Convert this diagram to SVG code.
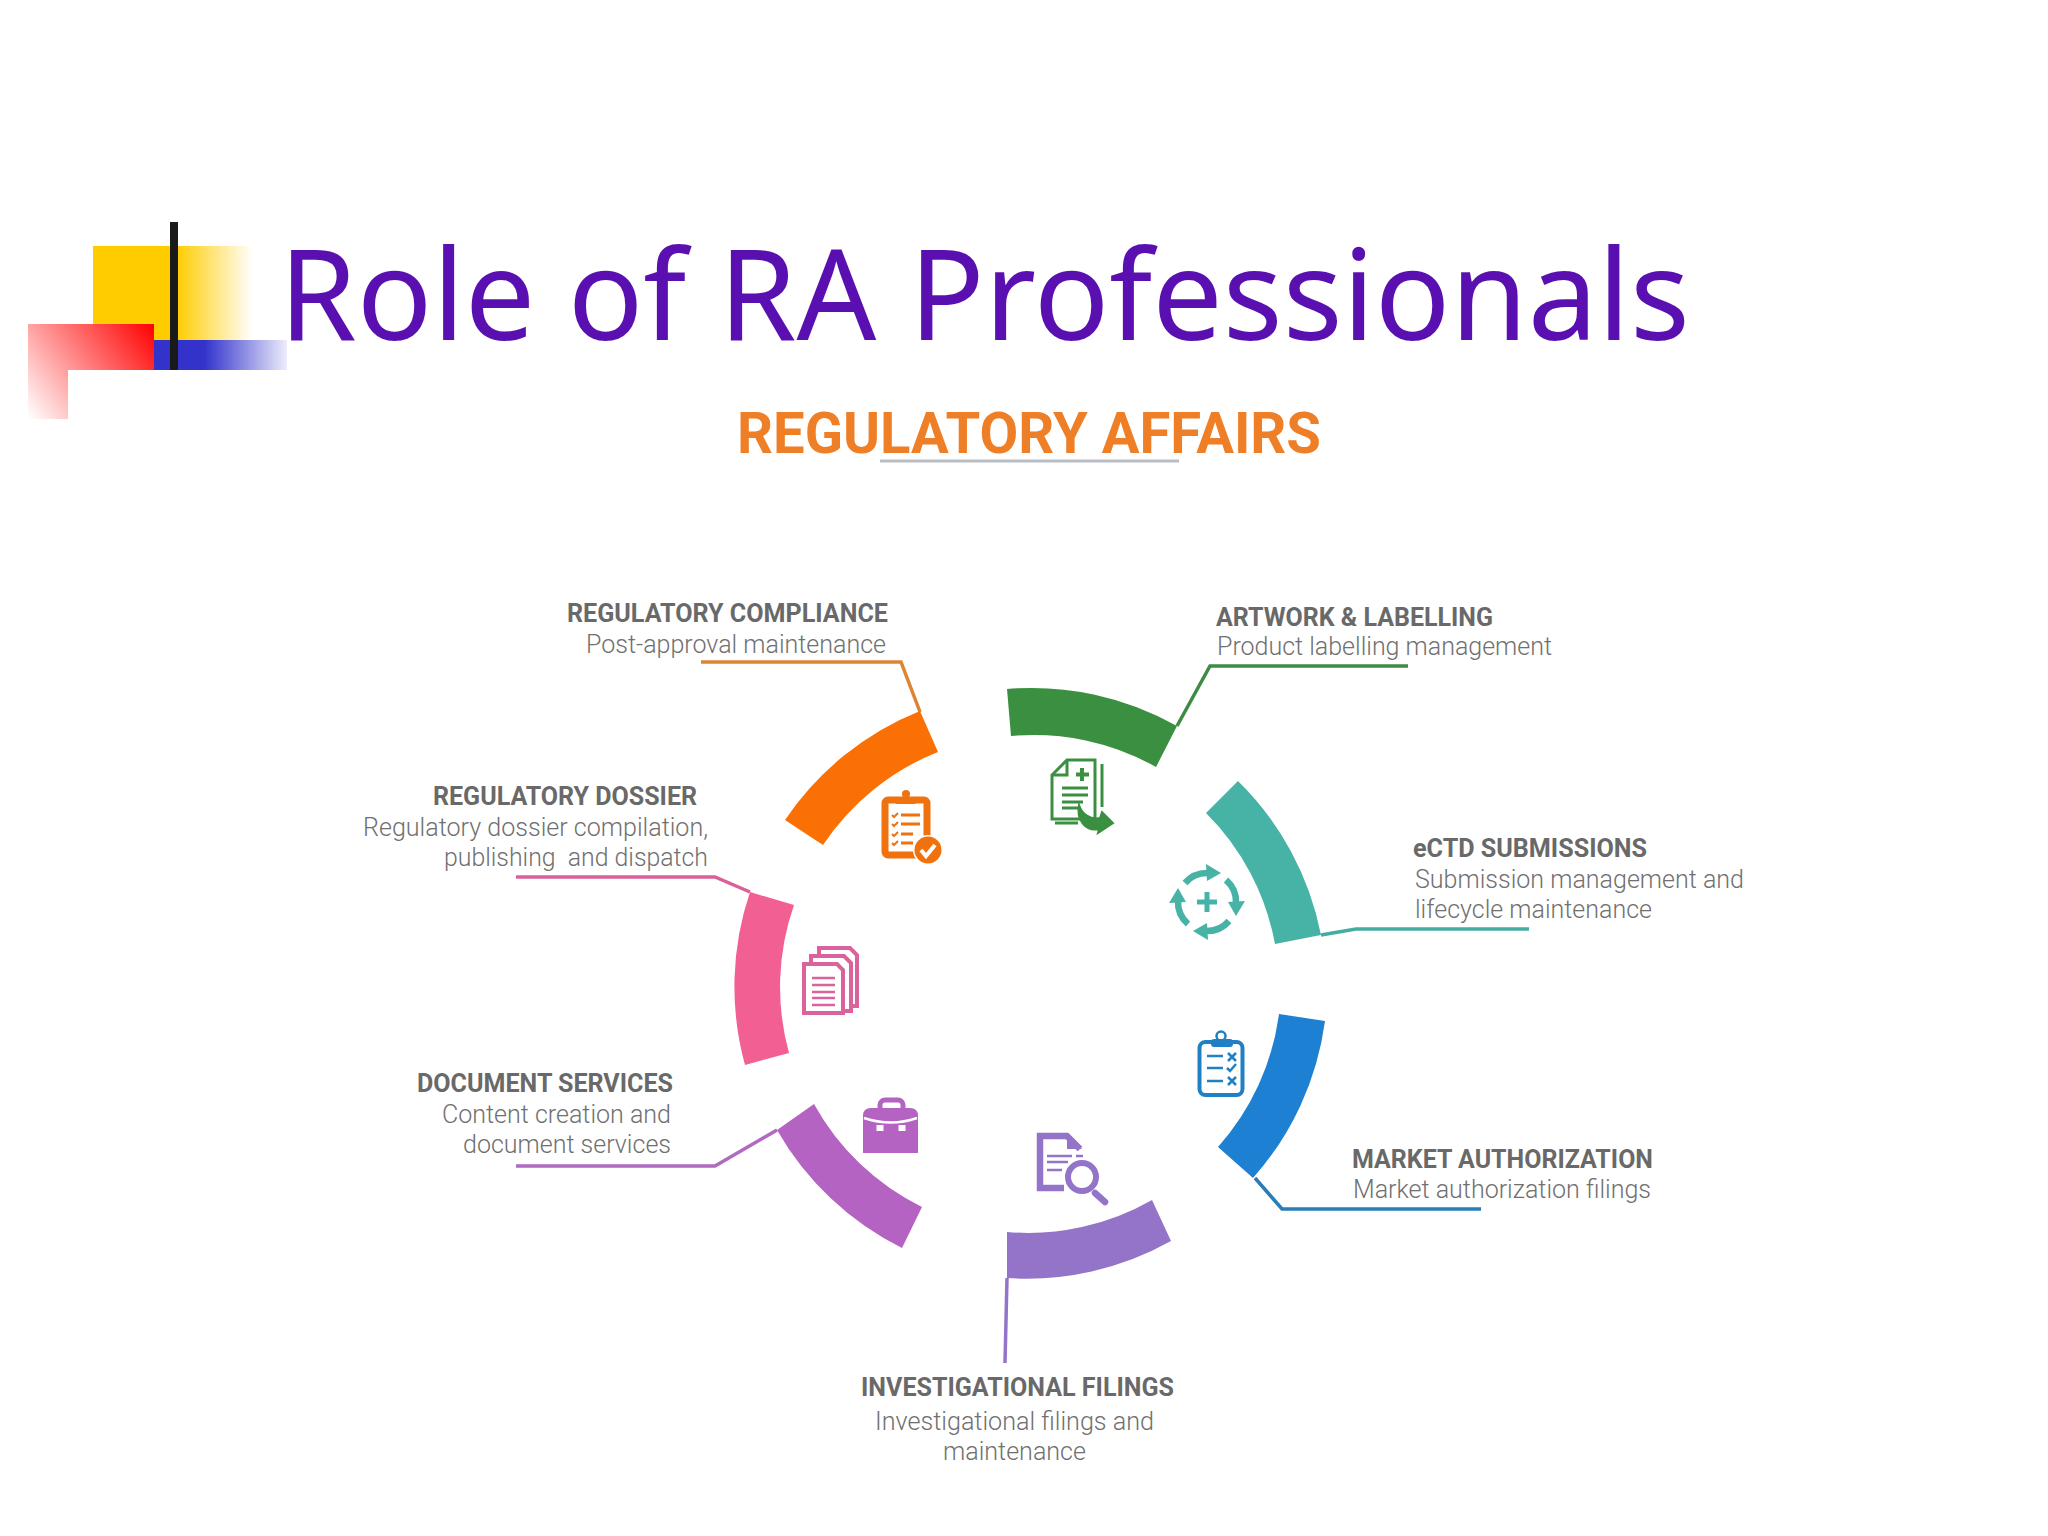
<svg xmlns="http://www.w3.org/2000/svg" xmlns:xlink="http://www.w3.org/1999/xlink" width="2048" height="1536" viewBox="0 0 2048 1536">
<style>
text{font-family:Roboto,"Liberation Sans",sans-serif}
.title{font-family:"Noto Sans","Open Sans",sans-serif;font-size:126px;fill:#5a10b0}
.head{font-size:57px;font-weight:700;fill:#ef7f26}
.b{font-size:25px;font-weight:700;fill:#696969}
.s{font-size:25px;font-weight:300;fill:#707070}
.c{fill:none;stroke-width:3.500}
.w{fill:none;stroke:#fff}
</style>
<defs>
<linearGradient id="gy" gradientUnits="userSpaceOnUse" x1="93" y1="0" x2="253" y2="0"><stop offset="0" stop-color="#ffcc00"/><stop offset=".52" stop-color="#ffcc00"/><stop offset="1" stop-color="#fff"/></linearGradient>
<linearGradient id="gb" gradientUnits="userSpaceOnUse" x1="154" y1="0" x2="295" y2="0"><stop offset="0" stop-color="#3333cc"/><stop offset=".36" stop-color="#3333cc"/><stop offset="1" stop-color="#fff"/></linearGradient>
<linearGradient id="gr" gradientUnits="userSpaceOnUse" x1="154" y1="324" x2="28" y2="418"><stop offset="0" stop-color="#ff0000"/><stop offset="1" stop-color="#fff"/></linearGradient>
<g id="arm"><path d="M1185,883A29,29 0 0 1 1208,873" fill="none" stroke="#47b3a7" stroke-width="6.500"/><path d="M1206,864L1221,873L1207,881Z" fill="#47b3a7"/></g>
</defs>
<rect width="2048" height="1536" fill="#fff"/>

<g id="decoration">
<rect x="93" y="246" width="160" height="94" fill="url(#gy)"/>
<rect x="154" y="340" width="133" height="30" fill="url(#gb)"/>
<path d="M28,324H154V370H68V419H28Z" fill="url(#gr)"/>
<rect x="170" y="222" width="8" height="148" fill="#1a1a1a"/>
</g>
<text class="title" x="279" y="340" textLength="1411" lengthAdjust="spacingAndGlyphs">Role of RA Professionals</text>
<g id="heading">
<text class="head" x="737" y="453" textLength="584" lengthAdjust="spacingAndGlyphs">REGULATORY AFFAIRS</text>
<rect x="880" y="459.500" width="299" height="3" fill="#b9bdc4"/>
</g>

<g id="connectors">
<polyline class="c" stroke="#dc8533" points="701,662 901,662 920,712"/>
<polyline class="c" stroke="#3f8a46" points="1408,666 1210,666 1177,726"/>
<polyline class="c" stroke="#45ada0" points="1529,929 1356,929 1321,935"/>
<polyline class="c" stroke="#2a7db8" points="1481,1209 1282,1209 1255,1178"/>
<polyline class="c" stroke="#9474c9" points="1007,1278 1005,1363"/>
<polyline class="c" stroke="#b06ac0" points="516,1166 715,1166 777,1130"/>
<polyline class="c" stroke="#d9619a" points="516,877 715,877 750,892"/>
</g>

<g id="regulatory-compliance">
<path fill="#fb7005" d="M785,820A295,295 0 0 1 920,711L938,752A248,248 0 0 0 823,845Z"/>
<rect x="885" y="800" width="42" height="55" rx="3" fill="none" stroke="#f0720f" stroke-width="7"/>
<rect x="895" y="797" width="21" height="7" rx="2" fill="#f0720f"/><circle cx="906" cy="794" r="4" fill="#f0720f"/>
<path d="M901,815H920M901,824H920M901,834H913M901,843H913" fill="none" stroke="#f0720f" stroke-width="3"/>
<path d="M892,815l2,2l4,-4M892,824l2,2l4,-4M892,834l2,2l4,-4M892,843l2,2l4,-4" fill="none" stroke="#f0720f" stroke-width="2"/>
<circle cx="928" cy="850" r="15" fill="#fff"/><circle cx="928" cy="850" r="13.500" fill="#f0720f"/>
<path d="M921,850l5,6l9,-11" class="w" stroke-width="4"/>
<text class="b" x="567" y="622" textLength="321" lengthAdjust="spacingAndGlyphs">REGULATORY COMPLIANCE</text>
<text class="s" x="586" y="653" textLength="300" lengthAdjust="spacingAndGlyphs">Post-approval maintenance</text>
</g>

<g id="artwork-labelling">
<path fill="#3a8f41" d="M1007,689A295,295 0 0 1 1177,726L1156,767A248,248 0 0 0 1011,736Z"/>
<path d="M1067,760H1095V819H1052V775Z" fill="none" stroke="#3a8f41" stroke-width="3"/>
<path d="M1067,760V775H1052M1102,764V807M1055,823H1078" fill="none" stroke="#3a8f41" stroke-width="3"/>
<path d="M1082,768V781M1076,774.500H1089" fill="none" stroke="#3a8f41" stroke-width="4"/>
<path d="M1062,788H1088M1062,795H1088M1062,802H1083M1062,808H1078" fill="none" stroke="#3a8f41" stroke-width="3"/>
<path d="M1079,805C1082,814 1090,820 1100,818L1102,812L1113,823L1098,833L1099,829C1086,832 1076,820 1079,805Z" fill="#3a8f41" stroke="#3a8f41" stroke-width="2"/>
<text class="b" x="1216" y="626" textLength="277" lengthAdjust="spacingAndGlyphs">ARTWORK &amp; LABELLING</text>
<text class="s" x="1217" y="655" textLength="335" lengthAdjust="spacingAndGlyphs">Product labelling management</text>
</g>

<g id="ectd-submissions">
<path fill="#47b3a7" d="M1238,781A295,295 0 0 1 1321,935L1275,944A248,248 0 0 0 1206,813Z"/>
<use xlink:href="#arm" href="#arm"/>
<use xlink:href="#arm" href="#arm" transform="rotate(90 1207 902)"/>
<use xlink:href="#arm" href="#arm" transform="rotate(180 1207 902)"/>
<use xlink:href="#arm" href="#arm" transform="rotate(270 1207 902)"/>
<path d="M1197,902H1217M1207,892V912" fill="none" stroke="#47b3a7" stroke-width="5"/>
<text class="b" x="1413" y="857" textLength="234" lengthAdjust="spacingAndGlyphs">eCTD SUBMISSIONS</text>
<text class="s" x="1415" y="888" textLength="329" lengthAdjust="spacingAndGlyphs">Submission management and</text>
<text class="s" x="1415" y="918" textLength="237" lengthAdjust="spacingAndGlyphs">lifecycle maintenance</text>
</g>

<g id="market-authorization">
<path fill="#1e80d2" d="M1325,1021A295,295 0 0 1 1253,1178L1218,1147A248,248 0 0 0 1279,1014Z"/>
<rect x="1199.500" y="1042" width="43" height="53" rx="6" fill="none" stroke="#2180c4" stroke-width="4"/>
<rect x="1211" y="1039" width="22" height="8" rx="3" fill="#2180c4"/><circle cx="1221" cy="1036" r="4.500" fill="none" stroke="#2180c4" stroke-width="2.500"/>
<path d="M1207,1056H1223M1207,1068H1223M1207,1081H1223" fill="none" stroke="#2180c4" stroke-width="2.500"/>
<path d="M1228,1053l8,8m0,-8l-8,8M1228,1077l8,8m0,-8l-8,8M1227,1068l3,3l6,-7" fill="none" stroke="#2180c4" stroke-width="2.500"/>
<text class="b" x="1352" y="1168" textLength="301" lengthAdjust="spacingAndGlyphs">MARKET AUTHORIZATION</text>
<text class="s" x="1353" y="1198" textLength="298" lengthAdjust="spacingAndGlyphs">Market authorization filings</text>
</g>

<g id="investigational-filings">
<path fill="#9474c9" d="M1171,1241A295,295 0 0 1 1007,1278L1007,1232A248,248 0 0 0 1152,1200Z"/>
<path d="M1064,1188H1040V1136H1067L1080,1149" fill="none" stroke="#9474c9" stroke-width="6.500"/>
<path d="M1067,1134L1082,1149H1067Z" fill="#9474c9"/>
<path d="M1047,1156H1072M1047,1162H1068M1047,1170H1062M1076,1156H1083" fill="none" stroke="#9474c9" stroke-width="2.500"/>
<circle cx="1082" cy="1177" r="14" fill="#fff" stroke="#9474c9" stroke-width="6"/>
<path d="M1095,1193L1105,1202" fill="none" stroke="#9474c9" stroke-width="6.500" stroke-linecap="round"/>
<text class="b" x="861" y="1396" textLength="313" lengthAdjust="spacingAndGlyphs">INVESTIGATIONAL FILINGS</text>
<text class="s" x="875" y="1430" textLength="279" lengthAdjust="spacingAndGlyphs">Investigational filings and</text>
<text class="s" x="943" y="1460" textLength="143" lengthAdjust="spacingAndGlyphs">maintenance</text>
</g>

<g id="document-services">
<path fill="#b563c3" d="M902,1248A295,295 0 0 1 777,1130L814,1104A248,248 0 0 0 922,1207Z"/>
<rect x="880" y="1100" width="23" height="14" rx="5" fill="none" stroke="#b563c3" stroke-width="5"/>
<path d="M863,1153V1116Q863,1108 871,1108H910Q918,1108 918,1116V1153Z" fill="#b563c3"/>
<path d="M864,1118Q891,1127 917,1118" class="w" stroke-width="2.500"/>
<path d="M880,1125V1131M902,1125V1131" class="w" stroke-width="7"/>
<text class="b" x="417" y="1092" textLength="256" lengthAdjust="spacingAndGlyphs">DOCUMENT SERVICES</text>
<text class="s" x="442" y="1123" textLength="229" lengthAdjust="spacingAndGlyphs">Content creation and</text>
<text class="s" x="463" y="1153" textLength="208" lengthAdjust="spacingAndGlyphs">document services</text>
</g>

<g id="regulatory-dossier">
<path fill="#f25f93" d="M745,1065A295,295 0 0 1 750,892L794,905A248,248 0 0 0 789,1053Z"/>
<path d="M819,955V948H850L857,955V1006H852" fill="none" stroke="#d9639a" stroke-width="4"/>
<path d="M811,963V956H844L851,963V1011H845" fill="#fff" stroke="#d9639a" stroke-width="4"/>
<path d="M804,964H837L843,970V1013H804Z" fill="#fff" stroke="#d9639a" stroke-width="4"/>
<path d="M812,978H835M812,985H835M812,992H835M812,998H835M812,1005H835" fill="none" stroke="#d9639a" stroke-width="2.500"/>
<text class="b" x="433" y="805" textLength="264" lengthAdjust="spacingAndGlyphs">REGULATORY DOSSIER</text>
<text class="s" x="363" y="836" textLength="345" lengthAdjust="spacingAndGlyphs">Regulatory dossier compilation,</text>
<text class="s" x="444" y="866" textLength="264" lengthAdjust="spacingAndGlyphs" xml:space="preserve">publishing  and dispatch</text>
</g>
</svg>
